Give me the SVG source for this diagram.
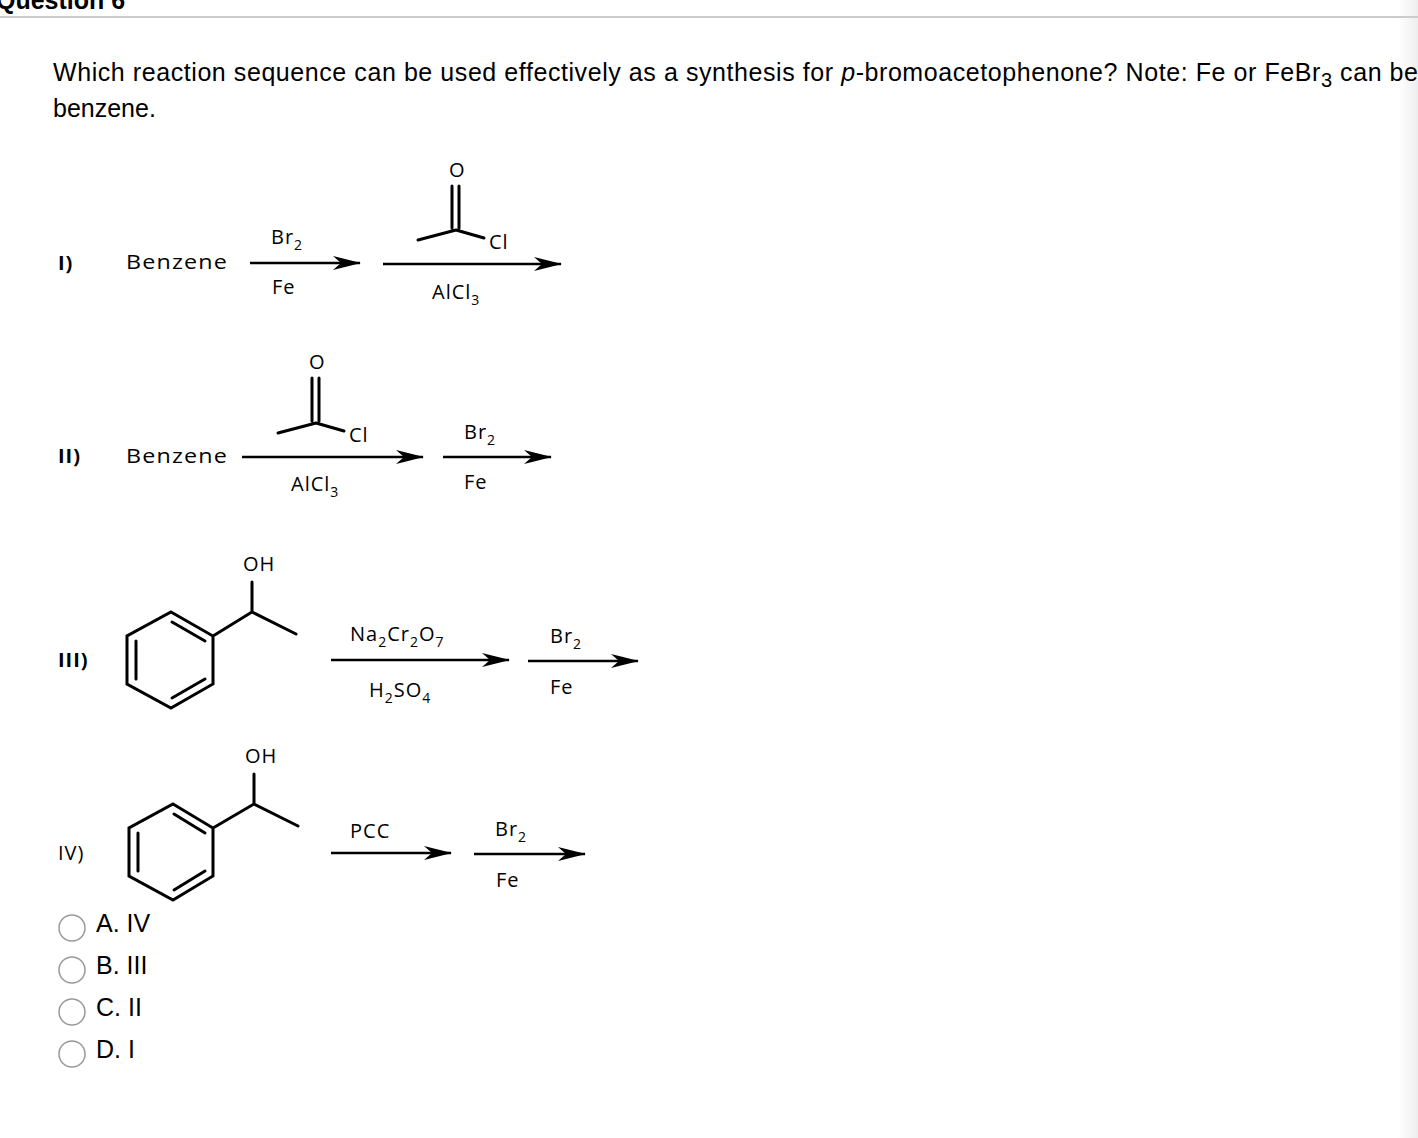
<svg xmlns="http://www.w3.org/2000/svg" width="1418" height="1138" viewBox="0 0 1418 1138">
<defs>
<marker id="ah" markerWidth="28" markerHeight="14" refX="27" refY="7" orient="auto" markerUnits="userSpaceOnUse">
<path d="M0,0 L28,7 L0,14 L8,7 Z" fill="#000"/>
</marker>
<linearGradient id="sh" x1="0" x2="1"><stop offset="0" stop-color="#fff"/><stop offset="1" stop-color="#eee"/></linearGradient>
</defs>
<style>
.q{font-family:"Liberation Sans",Arial,sans-serif;font-size:25px;fill:#000}
.l{font-family:"Open Sans","DejaVu Sans",sans-serif;font-size:20px;fill:#000;letter-spacing:1px}
.s{font-size:14px}
.b{stroke:#000;stroke-width:3;fill:none;stroke-linecap:round}
.a{stroke:#000;stroke-width:2.5;fill:none;marker-end:url(#ah)}
.r{fill:#fff;stroke:#999;stroke-width:1.5}
</style>
<rect width="1418" height="1138" fill="#fff"/>
<rect x="1398" y="0" width="20" height="1138" fill="url(#sh)"/>
<text x="-4" y="9" class="q" font-weight="bold" font-size="24">Question 6</text>
<line x1="0" y1="17" x2="1418" y2="17" stroke="#ccc" stroke-width="2"/>
<text x="53" y="81" class="q" textLength="1365" lengthAdjust="spacing">Which reaction sequence can be used effectively as a synthesis for <tspan font-style="italic">p</tspan>-bromoacetophenone? Note: Fe or FeBr<tspan font-size="20" dy="6">3</tspan><tspan dy="-6"> can be</tspan></text>
<text x="53" y="117" class="q">benzene.</text>

<g id="labels">
<text x="58" y="270" class="l" font-weight="bold">I)</text>
<text x="58" y="463" class="l" font-weight="bold">II)</text>
<text x="58" y="667" class="l" font-weight="bold">III)</text>
<text x="58" y="860" class="l">IV)</text>
</g>

<g id="scheme1">
<text x="126" y="269" class="l" font-size="21" letter-spacing="0" textLength="102" lengthAdjust="spacingAndGlyphs">Benzene</text>
<text x="271" y="244" class="l">Br<tspan class="s" dy="6">2</tspan></text>
<text x="272" y="294" class="l">Fe</text>
<text x="449" y="177" class="l" font-size="16">O</text>
<path class="b" d="M452,186 V228 M459,186 V228 M456,230 L418,240 M456,230 L484,238" stroke-width="2.5"/>
<text x="489" y="249" class="l" font-size="17">Cl</text>
<text x="432" y="299" class="l">AlCl<tspan class="s" dy="6">3</tspan></text>
</g>

<g id="scheme2">
<text x="126" y="463" class="l" font-size="21" letter-spacing="0" textLength="102" lengthAdjust="spacingAndGlyphs">Benzene</text>
<text x="309" y="369" class="l" font-size="16">O</text>
<path class="b" d="M312,378 V421 M319,378 V421 M316,423 L278,433 M316,423 L344,431" stroke-width="2.5"/>
<text x="349" y="442" class="l" font-size="17">Cl</text>
<text x="291" y="491" class="l">AlCl<tspan class="s" dy="6">3</tspan></text>
<text x="464" y="439" class="l">Br<tspan class="s" dy="6">2</tspan></text>
<text x="464" y="489" class="l">Fe</text>
</g>

<g id="scheme3">
<path class="b" d="M171,612 L213,636 L213,684 L171,708 L127,684 L127,636 Z M213,636 L252,612 L252,582 M252,612 L296,634"/>
<path class="b" d="M172,622 L205,641 M136,641 V679 M172,698 L205,679" stroke-width="2.5"/>
<text x="243" y="571" class="l">OH</text>
<text x="350" y="641" class="l">Na<tspan class="s" dy="6">2</tspan><tspan dy="-6">Cr</tspan><tspan class="s" dy="6">2</tspan><tspan dy="-6">O</tspan><tspan class="s" dy="6">7</tspan></text>
<text x="369" y="697" class="l">H<tspan class="s" dy="6">2</tspan><tspan dy="-6">SO</tspan><tspan class="s" dy="6">4</tspan></text>
<text x="550" y="643" class="l">Br<tspan class="s" dy="6">2</tspan></text>
<text x="550" y="694" class="l">Fe</text>
</g>

<g id="scheme4">
<path class="b" d="M173,804 L213,828 L213,876 L173,900 L129,876 L129,828 Z M213,828 L254,804 L254,774 M254,804 L298,826"/>
<path class="b" d="M174,814 L205,833 M138,833 V871 M174,890 L205,871" stroke-width="2.5"/>
<text x="245" y="763" class="l">OH</text>
<text x="350" y="838" class="l">PCC</text>
<text x="495" y="836" class="l">Br<tspan class="s" dy="6">2</tspan></text>
<text x="496" y="887" class="l">Fe</text>
</g>

<g id="connectors">
<line class="a" x1="250" y1="263" x2="360" y2="263" stroke-width="3"/>
<line class="a" x1="383" y1="264" x2="561" y2="264" stroke-width="1.8"/>
<line class="a" x1="242" y1="457" x2="423" y2="457" stroke-width="1.8"/>
<line class="a" x1="443" y1="457" x2="551" y2="457" stroke-width="2.5"/>
<line class="a" x1="331" y1="660" x2="509" y2="660" stroke-width="1.8"/>
<line class="a" x1="528" y1="661" x2="638" y2="661" stroke-width="2.5"/>
<line class="a" x1="331" y1="853" x2="451" y2="853" stroke-width="3"/>
<line class="a" x1="474" y1="854" x2="585" y2="854" stroke-width="2.5"/>
</g>

<g id="choices">
<circle class="r" cx="72" cy="928" r="13"/><text x="96" y="932" class="q" font-size="24">A. IV</text>
<circle class="r" cx="72" cy="970" r="13"/><text x="96" y="974" class="q" font-size="24">B. III</text>
<circle class="r" cx="72" cy="1012" r="13"/><text x="96" y="1016" class="q" font-size="24">C. II</text>
<circle class="r" cx="72" cy="1054" r="13"/><text x="96" y="1058" class="q" font-size="24">D. I</text>
</g>
</svg>
